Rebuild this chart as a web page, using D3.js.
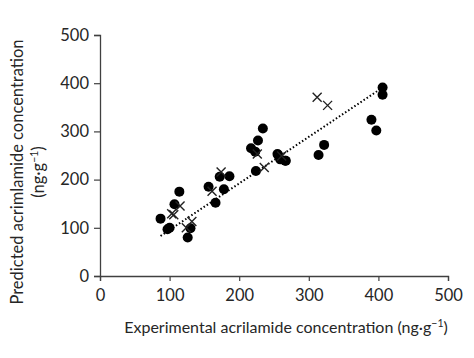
<!DOCTYPE html>
<html><head><meta charset="utf-8">
<script src="https://cdn.jsdelivr.net/npm/d3@7"></script>
<style>body{margin:0;background:#fff}svg{display:block}text{font-family:Lato,"Open Sans",sans-serif}</style>
</head><body><svg id="c" width="474" height="358"></svg>
<script>
const circleX = [87,97,100,107,114,130,126,156,166,172,178,186,217,227,234,223,224,255,256,259,267,266,314,322,390,397,406,406];
const circleY = [119,97,100,149,175,99,80,185,152,206,180,207,265,281,306,258,218,253,251,242,239,239,251,272,324,302,391,376];
const crossX = [103,106,115,124,132,161,174,226,236,261,312,327];
const crossY = [129,127,145,100,113,176,216,253,225,249,371,354];
const trendX = [87,405];
const trendY = [83,390];
const xTicks = [0,100,200,300,400,500];
const yTicks = [0,100,200,300,400,500];

const svg = d3.select("#c");
const L=100,R=448,T=35,B=276;
const x = d3.scaleLinear().domain([0,500]).range([L,R]);
const y = d3.scaleLinear().domain([0,500]).range([B,T]);
const axisColor="#404040";

const gx = svg.append("g").attr("transform",`translate(0,${B})`)
  .call(d3.axisBottom(x).tickValues(xTicks).tickSizeOuter(0).tickSize(5).tickPadding(8));
const gy = svg.append("g").attr("transform",`translate(${L},0)`)
  .call(d3.axisLeft(y).tickValues(yTicks).tickSizeOuter(0).tickSize(6).tickPadding(5));
[gx,gy].forEach(g=>{
  g.select(".domain").attr("stroke",axisColor).attr("stroke-width",1.3);
  g.selectAll(".tick line").attr("stroke",axisColor).attr("stroke-width",1.2);
  g.selectAll(".tick text").attr("fill","#262626").style("font-size","16.5px").style("font-family","Lato,'Open Sans',sans-serif");
});

// trend line
svg.append("line")
  .attr("x1",x(trendX[0])).attr("y1",y(trendY[0]))
  .attr("x2",x(trendX[1])).attr("y2",y(trendY[1]))
  .attr("stroke","#000").attr("stroke-width",2).attr("stroke-dasharray","1.5 2.2").attr("stroke-linecap","butt");

// circles
svg.append("g").selectAll("circle").data(circleX.map((v,i)=>[v,circleY[i]])).join("circle")
  .attr("cx",d=>x(d[0])).attr("cy",d=>y(d[1])).attr("r",5).attr("fill","#000");

// crosses
const s=4.5;
svg.append("g").selectAll("path").data(crossX.map((v,i)=>[v,crossY[i]])).join("path")
  .attr("d",d=>{const cx=x(d[0]),cy=y(d[1]);return `M${cx-s},${cy-s}L${cx+s},${cy+s}M${cx-s},${cy+s}L${cx+s},${cy-s}`;})
  .attr("stroke","#222").attr("stroke-width",1.4).attr("fill","none");

// titles
svg.append("text").attr("x",286).attr("y",333).attr("text-anchor","middle")
  .attr("fill","#262626").style("font-size","16px")
  .html("Experimental acrilamide concentration (ng·g<tspan dy='-6' font-size='10.5'>−1</tspan><tspan dy='6'>)</tspan>");
const yt = svg.append("g").attr("transform",`translate(0,172) rotate(-90)`);
yt.append("text").attr("x",0).attr("y",23).attr("text-anchor","middle").attr("fill","#262626").style("font-size","16.5px")
  .text("Predicted acrimlamide concentration");
yt.append("text").attr("x",0).attr("y",44).attr("text-anchor","middle").attr("fill","#262626").style("font-size","16.5px")
  .html("(ng·g<tspan dy='-6' font-size='10.5'>−1</tspan><tspan dy='6'>)</tspan>");
</script></body></html>
